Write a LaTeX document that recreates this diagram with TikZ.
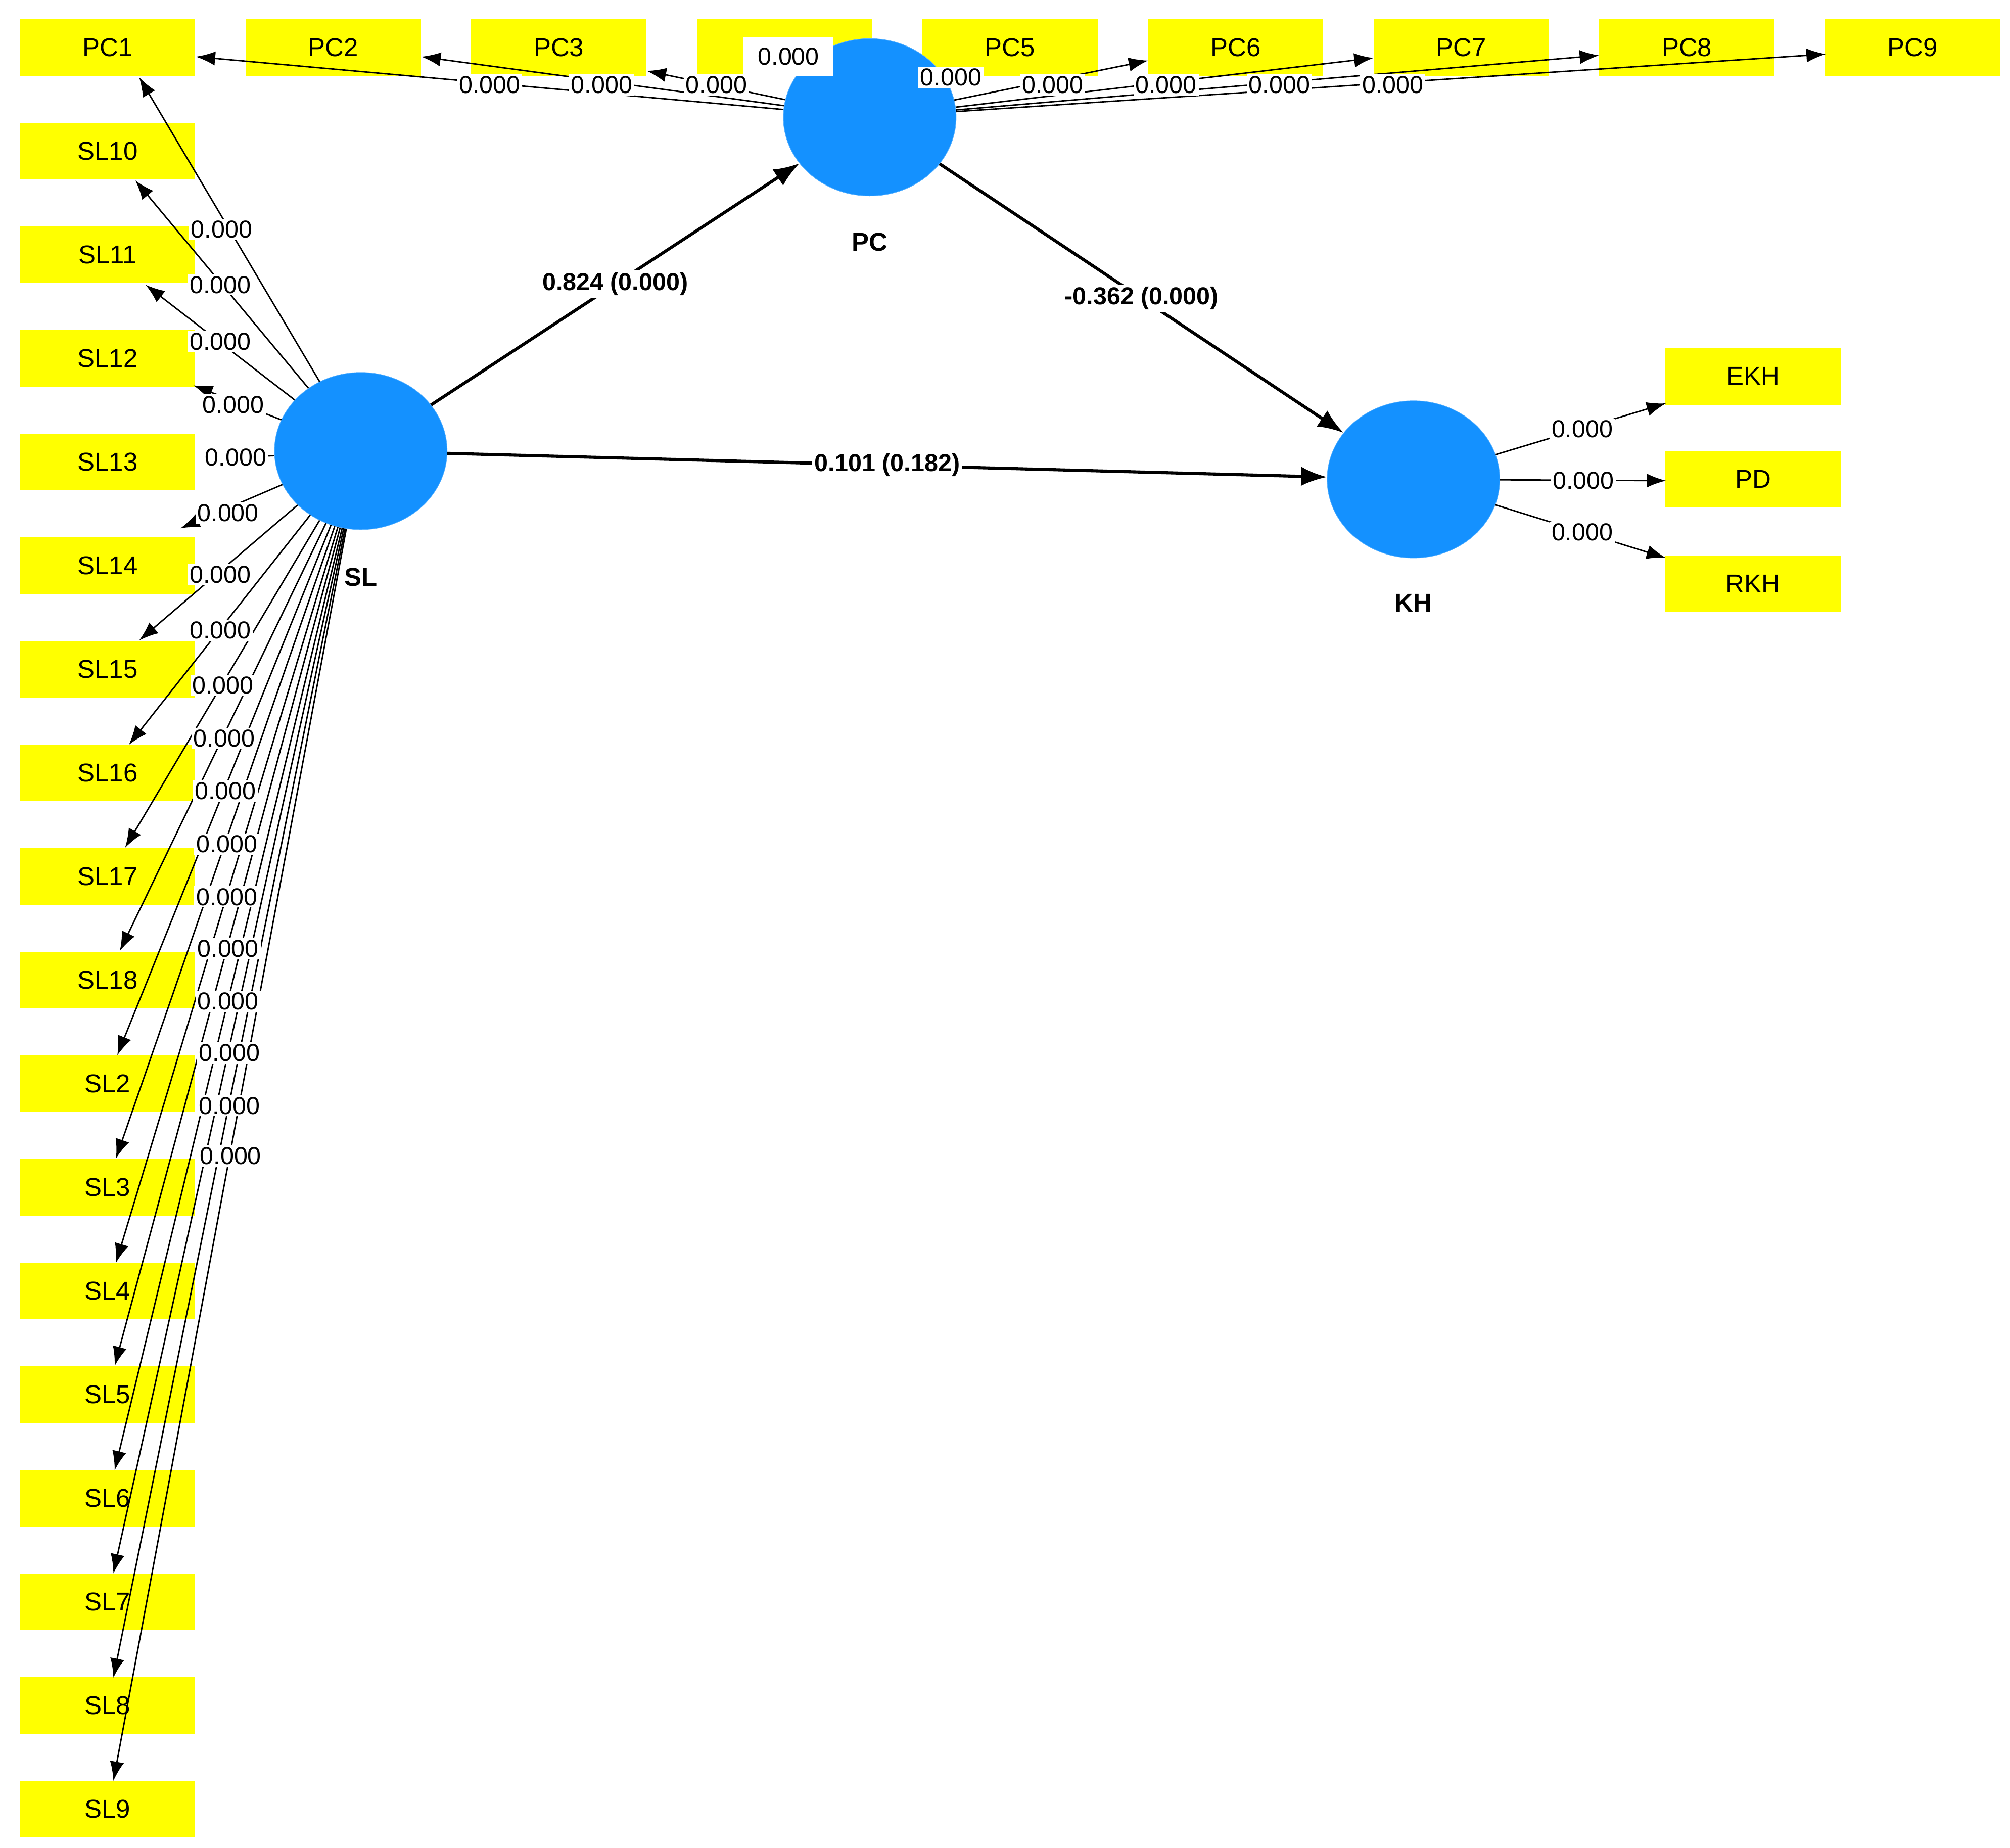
\documentclass[tikz,border=0pt]{standalone}
\usepackage{fontspec}
\setmainfont{Liberation Sans}
\usetikzlibrary{arrows.meta,shapes.geometric}
\definecolor{boxy}{RGB}{255,255,0}
\definecolor{lvblue}{RGB}{20,145,255}
\begin{document}
\begin{tikzpicture}[x=1pt,y=-1pt,
  ind/.style={fill=boxy,minimum width=136pt,minimum height=44pt,inner sep=0pt,font=\fontsize{20}{24}\selectfont},
  lv/.style={ellipse,fill=lvblue,draw=lvblue!70!white,minimum width=134pt,minimum height=122pt,inner sep=0pt},
  lvlab/.style={font=\fontsize{20}{24}\selectfont\bfseries},
  load/.style={line width=1.1pt,-{Latex[length=15pt,width=11pt]}},
  path/.style={line width=2.4pt,-{Latex[length=20pt,width=15pt]}},
  lab/.style={fill=white,inner sep=1.5pt,font=\fontsize{19}{22}\selectfont},
  plab/.style={fill=white,inner sep=2pt,font=\fontsize{19}{22}\selectfont\bfseries}]
\useasboundingbox (0,0) rectangle (1560,1434);
% indicators
\foreach \n [count=\i from 0] in {PC1,PC2,PC3,PC4,PC5,PC6,PC7,PC8,PC9}
  \node[ind] (\n) at (83.5+175.1*\i,37) {\n};
\foreach \n [count=\i from 1] in {SL10,SL11,SL12,SL13,SL14,SL15,SL16,SL17,SL18,SL2,SL3,SL4,SL5,SL6,SL7,SL8,SL9}
  \node[ind] (\n) at (83.5,37+80.4*\i) {\n};
\node[ind] (EKH) at (1360.5,292) {EKH};
\node[ind] (PD) at (1360.5,372) {PD};
\node[ind] (RKH) at (1360.5,453) {RKH};
% latent variables
\node[lv] (SL) at (280,350) {};
\node[lv] (PC) at (675,91) {};
\node[lv] (KH) at (1097,372) {};
% loading tips
\foreach \t/\x/\y in {t1/108/60,t10/105/140,t11/113/221,t12/150/299,t13/168/356,t14/140/410,t15/108/497,t16/100/578,t17/97/658,t18/93/738,t2/91/819,t3/90/899,t4/90/980,t5/89/1060,t6/89/1141,t7/88/1221,t8/88/1302,t9/88/1382}
  {\coordinate (\t) at (\x,\y); \draw[load] (SL) -- (\t);}
\foreach \t/\x/\y in {p1/152/44,p2/327/44,p3/502/55,p4/630/50,p5/745/60,p6/891/47,p7/1066/45,p8/1241/43,p9/1417/42}
  {\coordinate (\t) at (\x,\y); \draw[load] (PC) -- (\t);}
\node[lv] (PCtop) at (675,91) {};
\node[lvlab] at (280,448) {SL};
\node[lvlab] at (675,188) {PC};
\node[lvlab] at (1097,468) {KH};
\coordinate (e1) at (1293,313);
\coordinate (e2) at (1293,373);
\coordinate (e3) at (1293,433);
\draw[load] (KH) -- (e1);
\draw[load] (KH) -- (e2);
\draw[load] (KH) -- (e3);
% structural paths
\draw[path] (SL) -- node[plab] {0.824 (0.000)} (PC);
\draw[path] (PC) -- node[plab,pos=0.5] {-0.362 (0.000)} (KH);
\draw[path] (SL) -- node[plab,pos=0.5] {0.101 (0.182)} (KH);
% loading labels
\foreach \x/\y in {172/178,171/221,171/265,181/314,183/355,177/398,171/446,171/489,173/532,174/573,175/614,176/655,176/696,177/736,177/777,178/817,178/858,179/897,380/66,467/66,556/66,738/60,817/66,905/66,993/66,1081/66,1228/333,1229/373,1228/413}
  \node[lab] at (\x,\y) {0.000};
\node[lab,minimum width=70pt,minimum height=30pt] at (612,44) {0.000};
\end{tikzpicture}
\end{document}
